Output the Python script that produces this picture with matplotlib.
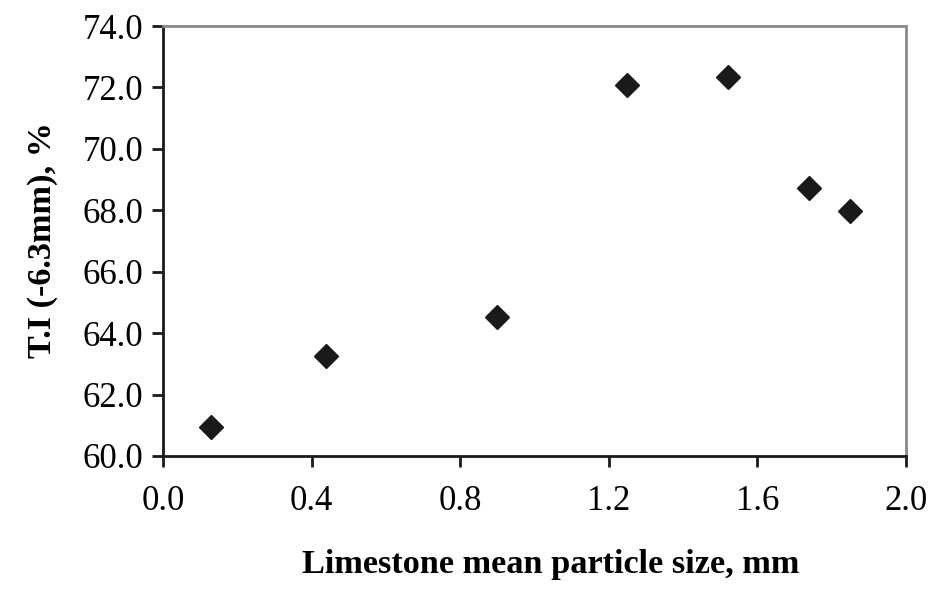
import numpy as np
import matplotlib
matplotlib.use("Agg")
import matplotlib.pyplot as plt

# datos
size_mm = [0.13, 0.44, 0.90, 1.25, 1.52, 1.74, 1.85]
ti = [60.93, 63.27, 64.52, 72.08, 72.34, 68.72, 67.97]

xticks = [0.0, 0.4, 0.8, 1.2, 1.6, 2.0]
yticks = [60, 62, 64, 66, 68, 70, 72, 74]

plt.rcParams['font.family'] = ['Liberation Serif', 'DejaVu Serif']

fig = plt.figure(figsize=(9.33, 5.98), dpi=100)
ax = fig.add_axes([0.1747, 0.2375, 0.971 - 0.1747, 0.9565 - 0.2375])

ax.plot(size_mm, ti, linestyle='none', marker='D', ms=12.5, color='#1a1a1a')

ax.set_xlim(0, 2.0)
ax.set_ylim(60, 74)
ax.set_xticks(xticks)
ax.set_yticks(yticks)
ax.set_xticklabels(['%.1f' % v for v in xticks])
ax.set_yticklabels(['%.1f' % v for v in yticks])
ax.tick_params(direction='out', length=8, width=2, labelsize=25, color='#1a1a1a')
ax.tick_params(axis='x', pad=13)
ax.tick_params(axis='y', pad=6)

for s in ['left', 'bottom']:
    ax.spines[s].set_linewidth(2)
    ax.spines[s].set_color('#1a1a1a')
for s in ['top', 'right']:
    ax.spines[s].set_linewidth(2)
    ax.spines[s].set_color('#8a8a8a')

fig.text(551 / 933, 1 - 565 / 598, 'Limestone mean particle size, mm',
         ha='center', va='center', fontsize=24.7, fontweight='bold')
fig.text(43 / 933, 1 - 240 / 598, 'T.I (-6.3mm), %', rotation=90,
         ha='center', va='center', fontsize=24.7, fontweight='bold')

fig.savefig('out.png', dpi=100)
